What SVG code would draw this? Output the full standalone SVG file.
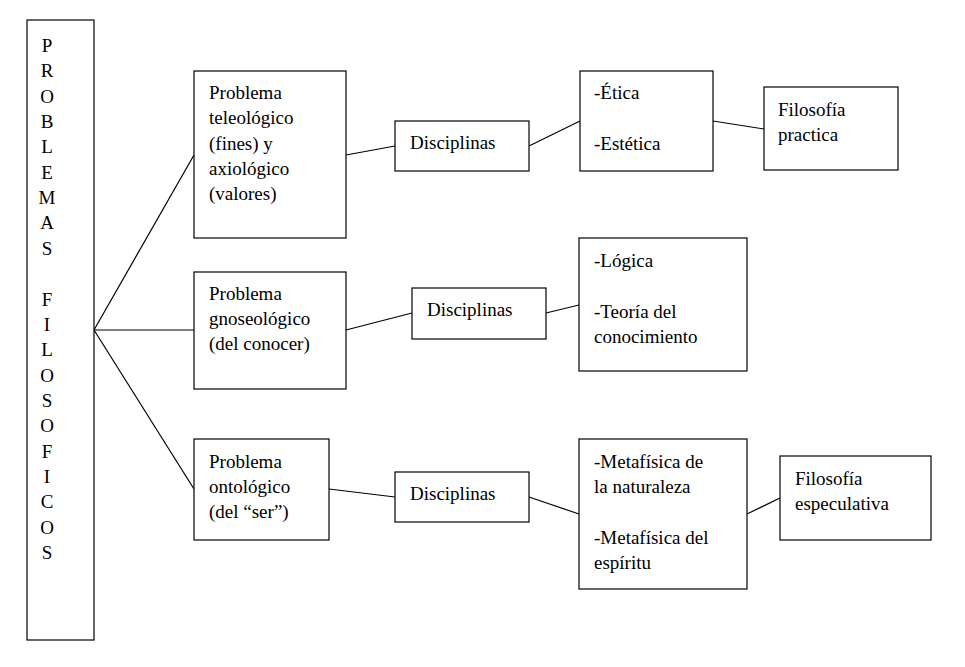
<svg xmlns="http://www.w3.org/2000/svg" width="965" height="667" viewBox="0 0 965 667">
<style>
rect{fill:#fff;stroke:#000;stroke-width:1.2}
line{stroke:#000;stroke-width:1.2}
text{font-family:"Liberation Serif",serif;font-size:19px;fill:#000}
.v{text-anchor:middle}
</style>
<rect x="0" y="0" width="965" height="667" style="stroke:none"/>
<g id="connectors">
<line x1="94" y1="330" x2="194" y2="155"/>
<line x1="94" y1="330" x2="194" y2="330"/>
<line x1="94" y1="330" x2="194" y2="489"/>
<line x1="346" y1="155" x2="395" y2="146"/>
<line x1="529" y1="146" x2="580" y2="121"/>
<line x1="713" y1="121" x2="764" y2="129"/>
<line x1="346" y1="330" x2="412" y2="313"/>
<line x1="546" y1="313" x2="579" y2="305"/>
<line x1="329" y1="489" x2="395" y2="497"/>
<line x1="529" y1="497" x2="579" y2="514"/>
<line x1="747" y1="514" x2="780" y2="498"/>
</g>
<g id="main"><rect x="27" y="20" width="67" height="620"/>
<text class="v"><tspan x="47" y="52">P</tspan><tspan x="47" y="77">R</tspan><tspan x="47" y="103">O</tspan><tspan x="47" y="128">B</tspan><tspan x="47" y="153">L</tspan><tspan x="47" y="179">E</tspan><tspan x="47" y="204">M</tspan><tspan x="47" y="229">A</tspan><tspan x="47" y="255">S</tspan><tspan x="47" y="306">F</tspan><tspan x="47" y="331">I</tspan><tspan x="47" y="356">L</tspan><tspan x="47" y="382">O</tspan><tspan x="47" y="407">S</tspan><tspan x="47" y="432">O</tspan><tspan x="47" y="458">F</tspan><tspan x="47" y="483">I</tspan><tspan x="47" y="508">C</tspan><tspan x="47" y="534">O</tspan><tspan x="47" y="559">S</tspan></text></g>
<g id="p1"><rect x="194" y="71" width="152" height="167"/><text><tspan x="209" y="99">Problema</tspan><tspan x="209" y="124">teleológico</tspan><tspan x="209" y="150">(fines) y</tspan><tspan x="209" y="175">axiológico</tspan><tspan x="209" y="200">(valores)</tspan></text></g>
<g id="d1"><rect x="395" y="121" width="134" height="50"/><text x="410" y="149">Disciplinas</text></g>
<g id="e1"><rect x="580" y="71" width="133" height="100"/><text><tspan x="594" y="99">-Ética</tspan><tspan x="594" y="150">-Estética</tspan></text></g>
<g id="f1"><rect x="764" y="87" width="134" height="83"/><text><tspan x="778" y="116">Filosofía</tspan><tspan x="778" y="141">practica</tspan></text></g>
<g id="p2"><rect x="194" y="272" width="152" height="117"/><text><tspan x="209" y="300">Problema</tspan><tspan x="209" y="325">gnoseológico</tspan><tspan x="209" y="350">(del conocer)</tspan></text></g>
<g id="d2"><rect x="412" y="288" width="134" height="51"/><text x="427" y="316">Disciplinas</text></g>
<g id="e2"><rect x="579" y="238" width="168" height="133"/><text><tspan x="594" y="267">-Lógica</tspan><tspan x="594" y="318">-Teoría del</tspan><tspan x="594" y="343">conocimiento</tspan></text></g>
<g id="p3"><rect x="194" y="439" width="135" height="101"/><text><tspan x="209" y="468">Problema</tspan><tspan x="209" y="493">ontológico</tspan><tspan x="209" y="518">(del “ser”)</tspan></text></g>
<g id="d3"><rect x="395" y="472" width="134" height="50"/><text x="410" y="500">Disciplinas</text></g>
<g id="e3"><rect x="579" y="439" width="168" height="150"/><text><tspan x="594" y="468">-Metafísica de</tspan><tspan x="594" y="493">la naturaleza</tspan><tspan x="594" y="544">-Metafísica del</tspan><tspan x="594" y="569">espíritu</tspan></text></g>
<g id="f3"><rect x="780" y="456" width="151" height="84"/><text><tspan x="795" y="485">Filosofía</tspan><tspan x="795" y="510">especulativa</tspan></text></g>
</svg>
